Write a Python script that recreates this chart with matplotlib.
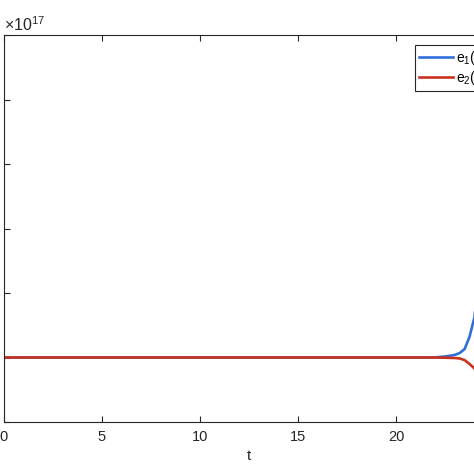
import matplotlib.pyplot as plt
from matplotlib.ticker import ScalarFormatter

plt.rcParams['font.family'] = ['Liberation Sans', 'DejaVu Sans']
plt.rcParams['mathtext.fontset'] = 'custom'
plt.rcParams['mathtext.rm'] = 'Liberation Sans'
plt.rcParams['mathtext.it'] = 'Liberation Sans:italic'

# time samples and error signals
t = [0, 5, 10, 15, 20, 21.5, 22, 22.5, 23, 23.25, 23.5, 23.75, 24, 24.5, 25]
e1 = [0, 0, 0, 0, 0, 0, 0.003e17, 0.015e17, 0.04e17, 0.07e17, 0.13e17,
      0.32e17, 0.62e17, 2.0e17, 4.6e17]
e2 = [0, 0, 0, 0, 0, 0, -0.001e17, -0.003e17, -0.008e17, -0.015e17, -0.04e17,
      -0.1e17, -0.17e17, -0.45e17, -0.8e17]
labels = ['e$_1$(t)', 'e$_2$(t)']

W = 474
fig = plt.figure(figsize=(4.74, 4.74), dpi=100)
# the original image is cropped on the right, so the axes run past the canvas
ax = fig.add_axes([4 / W, 52 / W, 490 / W, 387 / W])

ax.plot(t, e1, color='#2f6fdc', lw=1.9, label=labels[0])
ax.plot(t, e2, color='#c8321e', lw=1.9, label=labels[1])

ax.set_xlim(0, 25)
ax.set_ylim(-1e17, 5e17)
ax.set_xticks([0, 5, 10, 15, 20, 25])
ax.set_yticks([-1e17, 0, 1e17, 2e17, 3e17, 4e17, 5e17])

fmt = ScalarFormatter(useMathText=True)
fmt.set_powerlimits((0, 0))
ax.yaxis.set_major_formatter(fmt)
ax.yaxis.get_offset_text().set_fontsize(11.5)

ax.tick_params(direction='in', length=4, width=0.8, colors='#262626',
               labelsize=10.5, top=True, right=True, pad=6)
for s in ax.spines.values():
    s.set_color('#262626')
    s.set_linewidth(0.8)

ax.set_xlabel('t', fontsize=11, color='#262626', labelpad=3)

leg = ax.legend(loc='upper left', bbox_to_anchor=(415 / W, 1 - 45 / W),
                bbox_transform=fig.transFigure, fancybox=False, framealpha=1,
                edgecolor='#262626', fontsize=10, handlelength=2.4,
                handletextpad=0.25, borderaxespad=0, borderpad=0.3,
                labelspacing=0.1)
leg.get_frame().set_linewidth(0.8)

fig.savefig('out.png', dpi=100)
